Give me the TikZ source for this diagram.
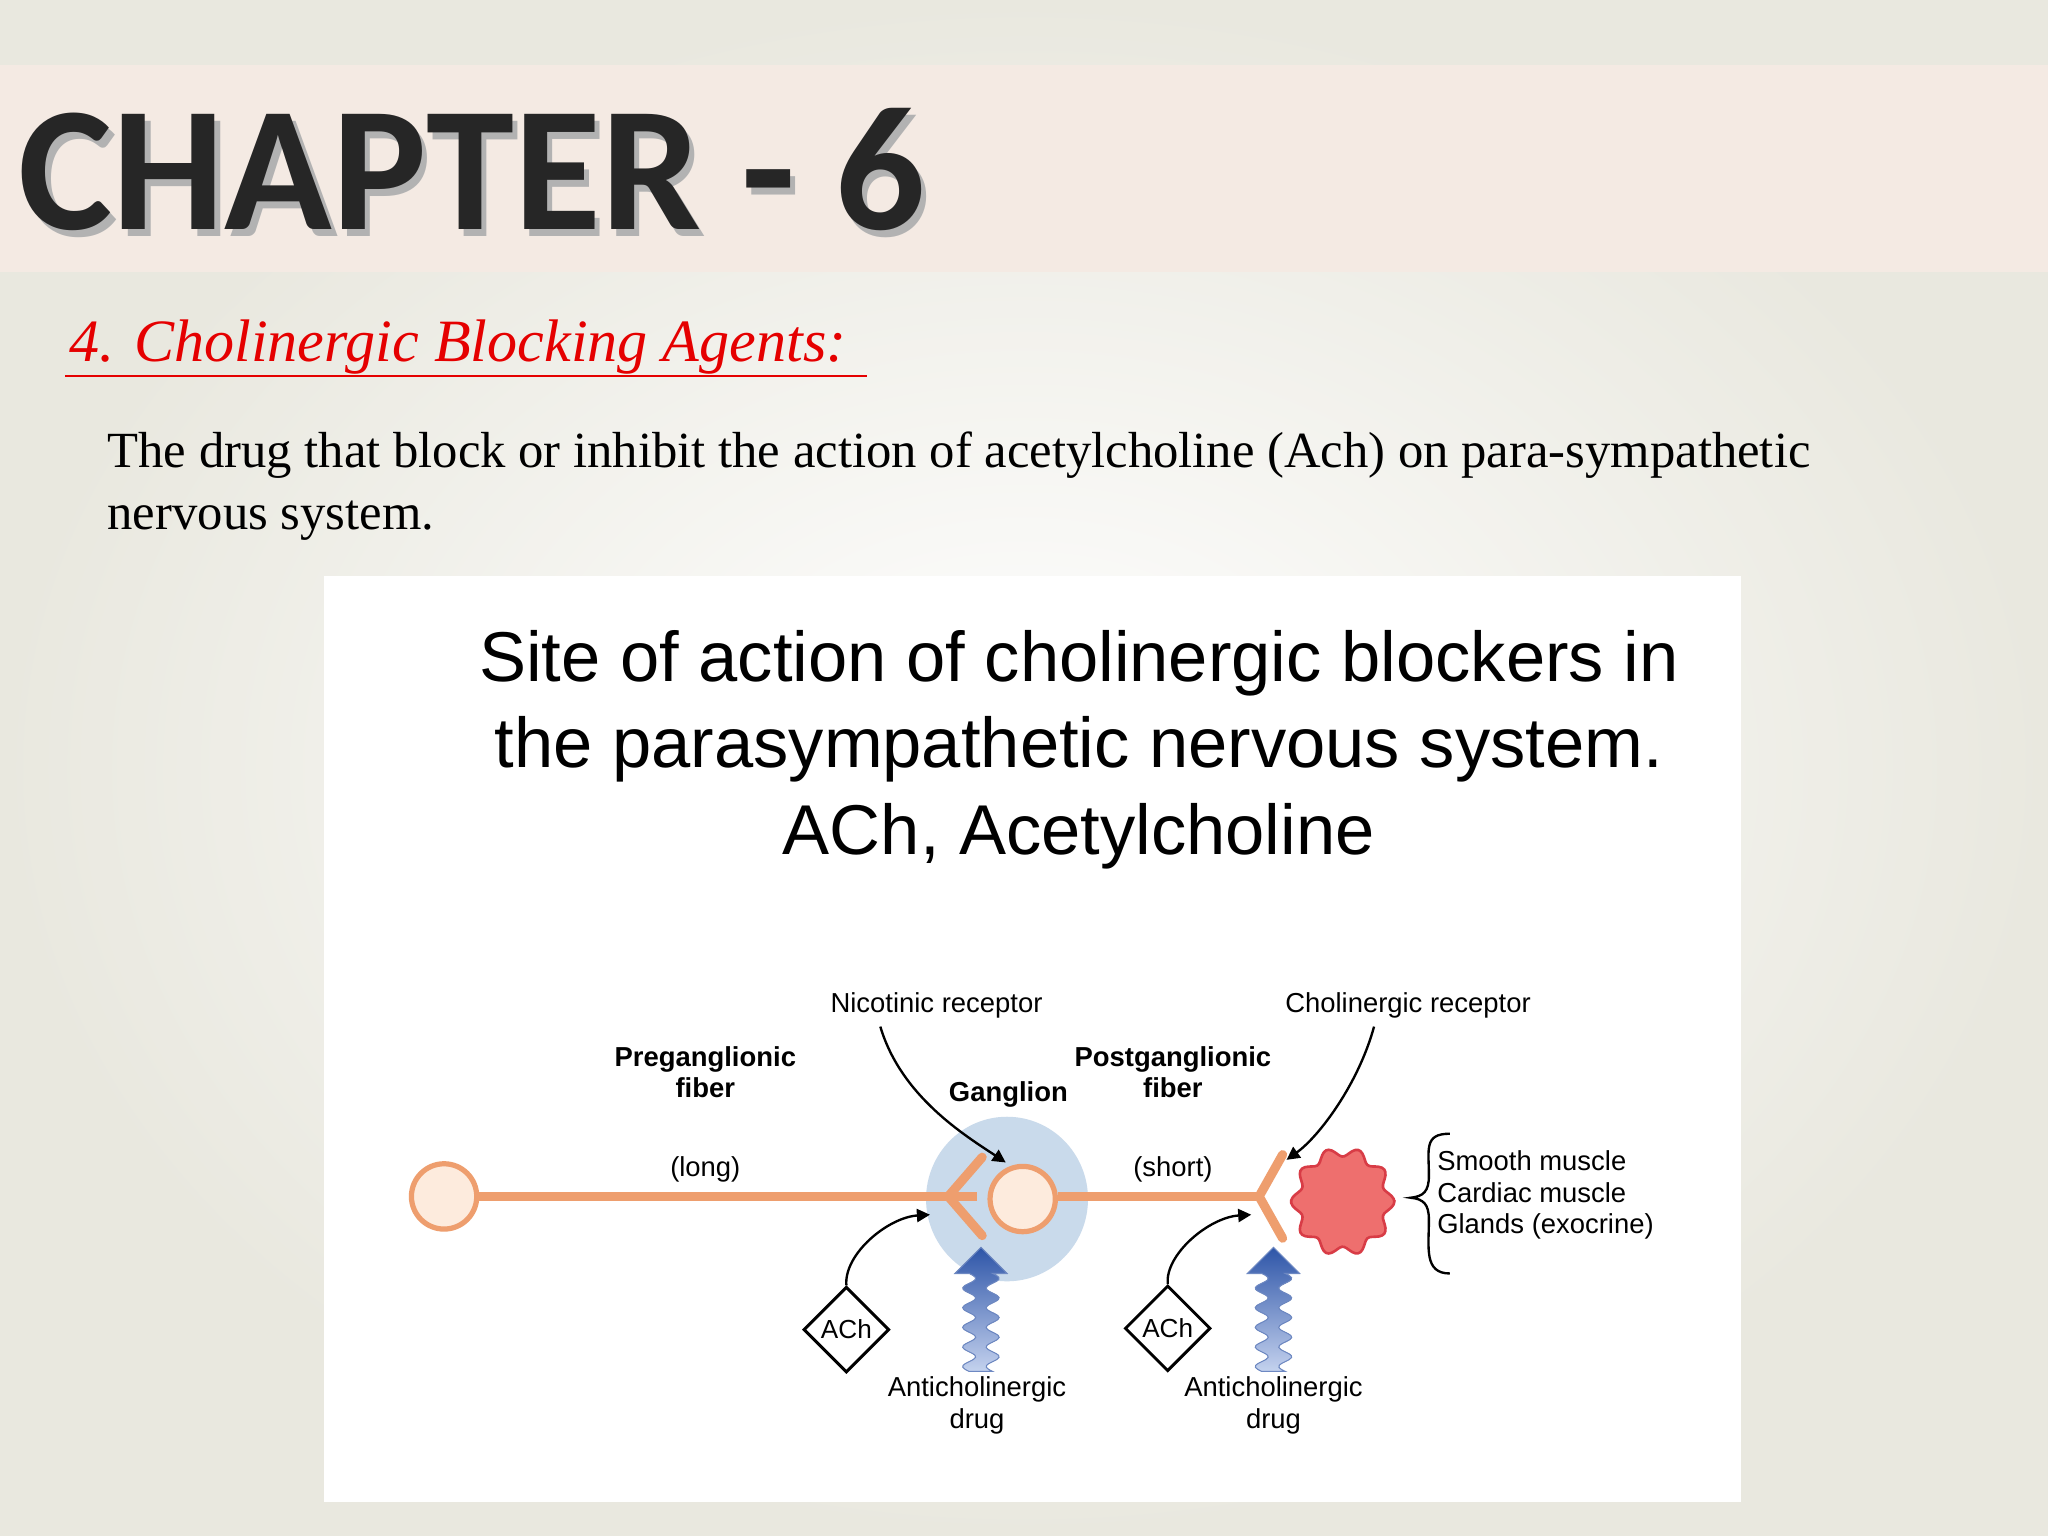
\documentclass[tikz,border=0pt]{standalone}
\usepackage{fontspec}
\setmainfont{Liberation Serif}
\setsansfont{Liberation Sans}
\newfontfamily\titlefont{Carlito}
\usetikzlibrary{arrows.meta,shapes.geometric}
\definecolor{bgA}{HTML}{E9E8DF}
\definecolor{band}{HTML}{F4EAE3}
\definecolor{fib}{HTML}{EE9E6E}
\definecolor{cellin}{HTML}{FDEBDD}
\definecolor{gang}{HTML}{C9DAEB}
\definecolor{burst}{HTML}{EE6F6E}
\definecolor{burstd}{HTML}{D83C46}
\definecolor{arrblue}{HTML}{2E55A8}
\definecolor{arrlight}{HTML}{C4D2EE}
\tikzset{
 lbl/.style={font=\sffamily\fontsize{10.5}{12}\selectfont, align=center, inner sep=1pt},
 blbl/.style={lbl, font=\sffamily\bfseries\fontsize{10.5}{12}\selectfont},
 fiber/.style={draw=fib, line width=3.5pt},
 cell/.style={circle, draw=fib, line width=2pt, fill=cellin, inner sep=0pt, minimum size=25pt},
 pt/.style={-{Triangle[length=5pt,width=5pt]}, line width=0.9pt},
 achbox/.style={diamond, draw, line width=1.1pt, fill=white, inner sep=1.5pt, font=\sffamily\fontsize{10}{10}\selectfont}
}
\newcommand{\wavyarrow}[2]{%
 \fill[top color=arrblue, bottom color=arrlight, draw=arrblue!70, line width=0.4pt]
   plot[domain=0:1, samples=50, smooth] ({#1-9+5*sin(\x*5*360)},{#2+20+\x*75})
   -- plot[domain=1:0, samples=50, smooth] ({#1+9+5*sin(\x*5*360)},{#2+20+\x*75})
   -- ({#1+20},{#2+20}) -- ({#1},{#2}) -- ({#1-20},{#2+20}) -- cycle;}
\begin{document}
\begin{tikzpicture}[x=0.5pt,y=-0.5pt]
\useasboundingbox (0,0) rectangle (1568,1176);
\shade[inner color=white, outer color=bgA] (0,0) rectangle (1568,1176);
\fill[band] (0,50) rectangle (1568,208);
\node[anchor=west, font=\titlefont\bfseries\fontsize{68}{68}\selectfont, text=black!30, inner sep=0pt] at (18,135) {CHAPTER - 6};
\node[anchor=west, font=\titlefont\bfseries\fontsize{68}{68}\selectfont, text=black!85, inner sep=0pt] (chap) at (14,130) {CHAPTER - 6};
\node[anchor=west, font=\itshape\fontsize{23}{24}\selectfont, text=red!90!black] (head) at (46,266) {4. Cholinergic Blocking Agents:};
\draw[red!90!black, line width=0.8pt] (50,288) -- (664,288);
\node[anchor=north west, align=left, font=\fontsize{19.4}{24}\selectfont, inner sep=0pt] (desc) at (82,330) {The drug that block or inhibit the action of acetylcholine (Ach) on para-sympathetic\\nervous system.};
\fill[white] (248,441) rectangle (1333,1150);
\node[align=center, font=\sffamily\fontsize{27}{33}\selectfont] (ttl) at (826,574) {Site of action of cholinergic blockers in\\the parasympathetic nervous system.\\ACh, Acetylcholine};
% ganglion
\fill[gang] (771,918) ellipse (62 and 63);
\draw[fiber] (340,916) -- (748,916);
\draw[fiber] (810,916) -- (964,916);
\draw[fiber, line cap=round] (752,886) -- (726,916) -- (752,946);
\draw[fiber, line cap=round] (982,884) -- (964,916) -- (982,948);
\node[cell] (c1) at (340,916) {};
\node[cell] (c2) at (783,918) {};
% burst
\fill[burst, draw=burstd, line width=1pt] plot[domain=0:360, samples=120, smooth cycle] ({1028+(36+3.5*cos(10*\x))*cos(\x)},{920+(38+3.5*cos(10*\x))*sin(\x)});
% labels
\node[lbl] (nic) at (717,770) {Nicotinic receptor};
\node[lbl] (chol) at (1078,770) {Cholinergic receptor};
\node[blbl] (pre) at (540,821) {Preganglionic\\fiber};
\node[blbl] (post) at (898,821) {Postganglionic\\fiber};
\node[blbl] (gl) at (772,838) {Ganglion};
\node[lbl] (long) at (540,895) {(long)};
\node[lbl] (short) at (898,895) {(short)};
\node[lbl, anchor=west, align=left] (tis) at (1098,915) {Smooth muscle\\Cardiac muscle\\Glands (exocrine)};
\draw[line width=0.9pt] (1110,868) .. controls (1090,868) and (1094,880) .. (1094,900) .. controls (1094,912) and (1090,916) .. (1080,917) .. controls (1090,918) and (1094,922) .. (1094,934) .. controls (1094,955) and (1090,975) .. (1110,975);
\coordinate (nicE) at (770,890);
\coordinate (cholE) at (985,888);
\draw[pt] (674,786) .. controls (690,840) and (740,870) .. (nicE);
\draw[pt] (1052,786) .. controls (1040,830) and (1010,870) .. (cholE);
% ACh
\node[achbox] (a1) at (648,1018) {ACh};
\node[achbox] (a2) at (894,1017) {ACh};
\coordinate (t1) at (712,930);
\coordinate (t2) at (958,930);
\draw[pt] (a1.north) .. controls (646,960) and (680,932) .. (t1);
\draw[pt] (a2.north) .. controls (892,960) and (926,932) .. (t2);
\wavyarrow{751}{955}
\wavyarrow{975}{955}
\node[lbl] (d1) at (748,1076) {Anticholinergic\\drug};
\node[lbl] (d2) at (975,1076) {Anticholinergic\\drug};
\end{tikzpicture}
\end{document}
